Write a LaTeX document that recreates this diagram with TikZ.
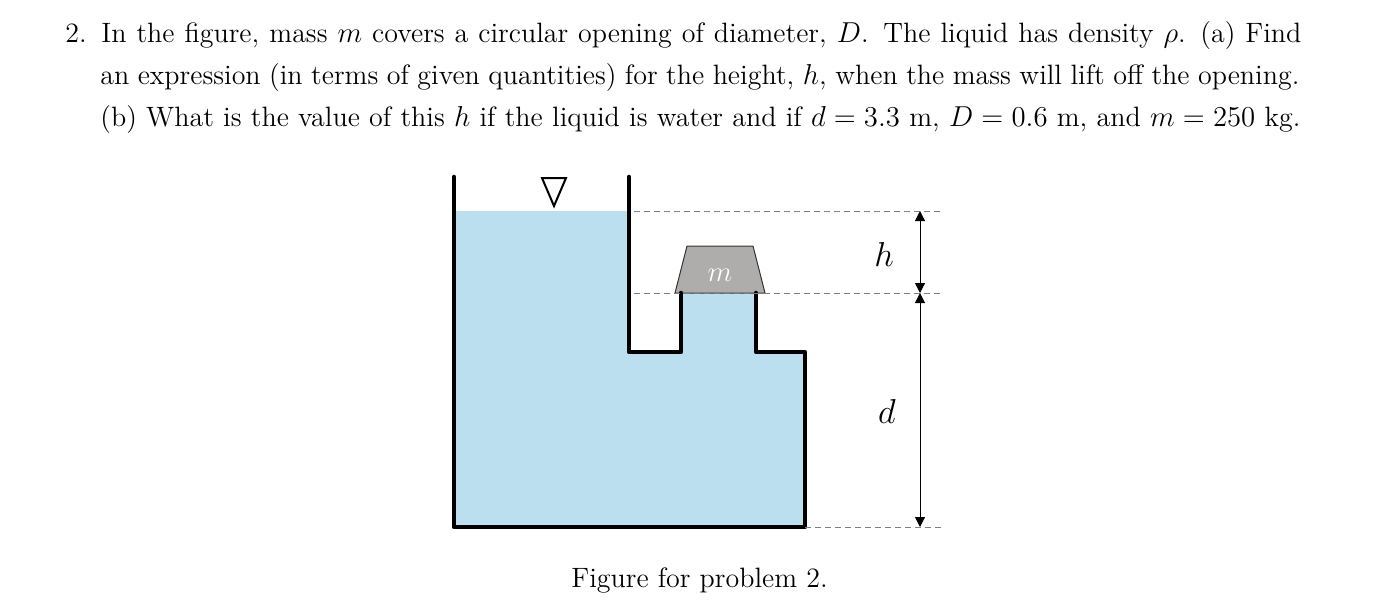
\documentclass[tikz,border=0pt]{standalone}
\usetikzlibrary{arrows.meta}
\definecolor{water}{RGB}{187,223,238}
\definecolor{massc}{RGB}{175,172,172}
\begin{document}
\begin{tikzpicture}[x=0.5pt,y=-0.5pt,
  wall/.style={line width=2.3pt,line join=round,line cap=round},
  dim/.style={densely dashed,gray,line width=0.5pt},
  txt/.style={inner sep=0,anchor=base west,font=\fontsize{14}{16}\selectfont}]
\useasboundingbox (0,0) rectangle (1391,612);
\node[txt] (l1) at (65,42) {\makebox[618pt][s]{2. In the figure, mass $m$ covers a circular opening of diameter, $D$. The liquid has density $\rho$. (a) Find}};
\node[txt] (l2) at (100,84) {\makebox[599.5pt][s]{an expression (in terms of given quantities) for the height, $h$, when the mass will lift off the opening.}};
\node[txt] (l3) at (100,126) {\makebox[600pt][s]{(b) What is the value of this $h$ if the liquid is water and if $d=3.3$ m, $D=0.6$ m, and $m=250$ kg.}};
% water
\fill[water] (454,211) -- (629,211) -- (629,352) -- (681,352) -- (681,293) -- (756,293) -- (756,352) -- (805,352) -- (805,527) -- (454,527) -- cycle;
% mass
\fill[massc,draw=black!80,line width=0.5pt] (675,293) -- (687,246) -- (753,246) -- (765,293) -- cycle;
\node[text=white,font=\fontsize{14}{14}\selectfont] (mlab) at (720,275) {$m$};
% walls
\draw[wall] (454,177) -- (454,527) -- (805,527) -- (805,352) -- (756,352) -- (756,293);
\draw[wall] (629,177) -- (629,352) -- (681,352) -- (681,293);
% free-surface marker
\draw[line width=1pt] (542,178) -- (566,178) -- (554,206) -- cycle;
% dashed lines
\coordinate (a1) at (634,211); \coordinate (a2) at (943,211);
\coordinate (b1) at (634,293); \coordinate (b2) at (943,293);
\coordinate (c1) at (805,527); \coordinate (c2) at (943,527);
\draw[dim] (a1) -- (a2); \draw[dim] (b1) -- (b2); \draw[dim] (c1) -- (c2);
\coordinate (ht) at (920,211); \coordinate (hb) at (920,293); \coordinate (db) at (920,527);
\draw[line width=0.5pt,{Triangle[length=5pt,width=5pt]}-{Triangle[length=5pt,width=5pt]}] (ht) -- (hb);
\draw[line width=0.5pt,{Triangle[length=5pt,width=5pt]}-{Triangle[length=5pt,width=5pt]}] (hb) -- (db);
\node[font=\fontsize{17}{17}\selectfont] (hl) at (884,254) {$h$};
\node[font=\fontsize{17}{17}\selectfont] (dl) at (887,411) {$d$};
\node[txt] (cap) at (571,587) {Figure for problem 2.};
\end{tikzpicture}
\end{document}
